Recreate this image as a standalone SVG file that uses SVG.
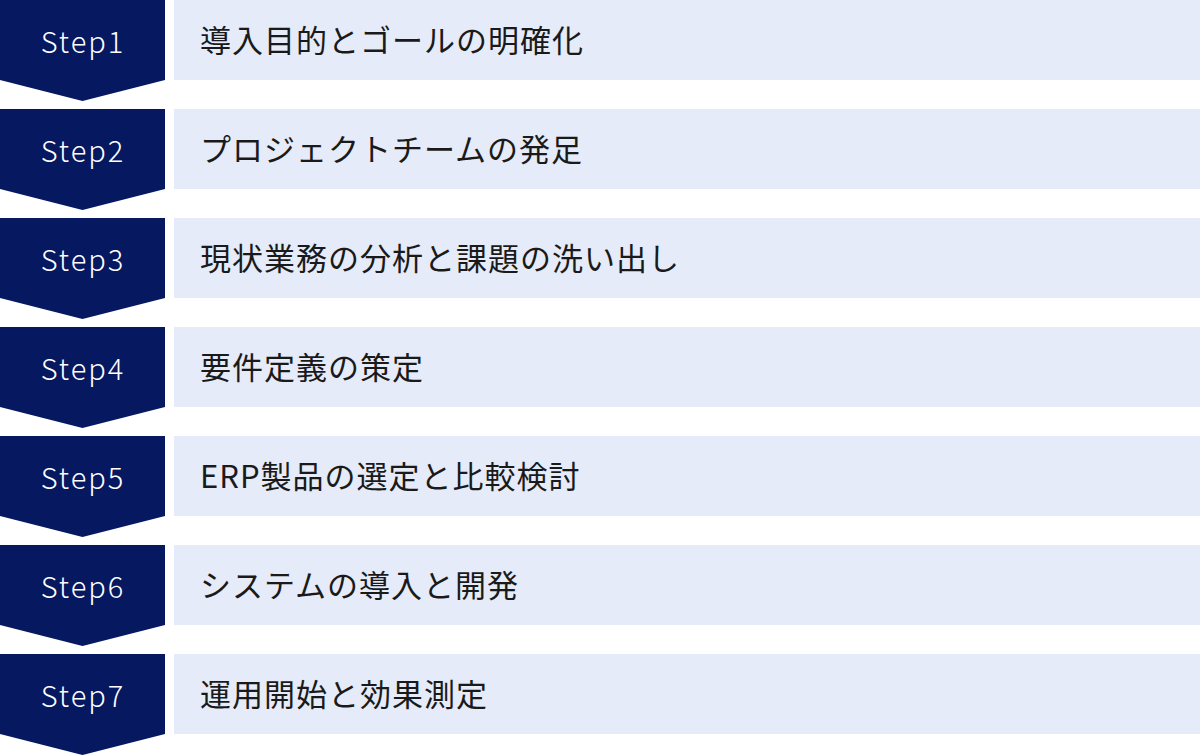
<svg xmlns="http://www.w3.org/2000/svg" width="1200" height="756" viewBox="0 0 1200 756">
<style>
.chev{fill:#051860}
.box{fill:#E5EBF8}
.step{font-family:"Noto Sans CJK JP","Noto Sans",sans-serif;font-size:29px;font-weight:300;fill:#fff;text-anchor:middle;letter-spacing:2px}
.lbl{font-family:"Noto Sans CJK JP",sans-serif;font-size:31px;font-weight:400;fill:#1a1a1a;letter-spacing:1px}
</style>
<defs>
<path id="chev" d="M0 0H165V80L82.5 101L0 80Z"/>
</defs>
<rect width="1200" height="756" fill="#fff"/>
<g id="connectors"/>
<g id="step1" transform="translate(0,0)"><use href="#chev" class="chev"/><rect class="box" x="174" y="0" width="1026" height="80"/><text class="step" x="83" y="52.5">Step1</text><text class="lbl" x="200" y="51.5">導入目的とゴールの明確化</text></g>
<g id="step2" transform="translate(0,109)"><use href="#chev" class="chev"/><rect class="box" x="174" y="0" width="1026" height="80"/><text class="step" x="83" y="52.5">Step2</text><text class="lbl" x="200" y="51.5">プロジェクトチームの発足</text></g>
<g id="step3" transform="translate(0,218)"><use href="#chev" class="chev"/><rect class="box" x="174" y="0" width="1026" height="80"/><text class="step" x="83" y="52.5">Step3</text><text class="lbl" x="200" y="51.5">現状業務の分析と課題の洗い出し</text></g>
<g id="step4" transform="translate(0,327)"><use href="#chev" class="chev"/><rect class="box" x="174" y="0" width="1026" height="80"/><text class="step" x="83" y="52.5">Step4</text><text class="lbl" x="200" y="51.5">要件定義の策定</text></g>
<g id="step5" transform="translate(0,436)"><use href="#chev" class="chev"/><rect class="box" x="174" y="0" width="1026" height="80"/><text class="step" x="83" y="52.5">Step5</text><text class="lbl" x="200" y="51.5">ERP製品の選定と比較検討</text></g>
<g id="step6" transform="translate(0,545)"><use href="#chev" class="chev"/><rect class="box" x="174" y="0" width="1026" height="80"/><text class="step" x="83" y="52.5">Step6</text><text class="lbl" x="200" y="51.5">システムの導入と開発</text></g>
<g id="step7" transform="translate(0,654)"><use href="#chev" class="chev"/><rect class="box" x="174" y="0" width="1026" height="80"/><text class="step" x="83" y="52.5">Step7</text><text class="lbl" x="200" y="51.5">運用開始と効果測定</text></g>
</svg>
